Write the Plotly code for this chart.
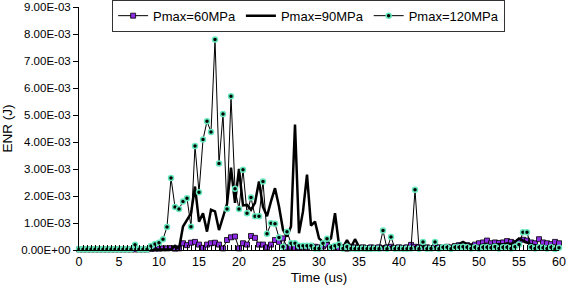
import plotly.graph_objects as go

# time axis (us), 0.5 us steps
time_us = [i * 0.5 for i in range(121)]

# ENR values in units of 1e-3 J
enr_60 = ([0.02] * 18 +
          [0.04, 0.05, 0.05, 0.06, 0.06, 0.07, 0.05, 0.06,            # 9 - 12.5
           0.25, 0.18, 0.27, 0.30, 0.20, 0.08, 0.20, 0.25, 0.27, 0.20,  # 13 - 17.5
           0.06, 0.37, 0.47, 0.50, 0.06, 0.25, 0.20, 0.52, 0.45, 0.20,  # 18 - 22.5
           0.20, 0.10, 0.20, 0.37, 0.30, 0.43, 0.10, 0.12, 0.08, 0.10,  # 23 - 27.5
           0.12, 0.10, 0.15, 0.12, 0.10, 0.13, 0.20, 0.10, 0.12, 0.08,  # 28 - 32.5
           0.10, 0.05, 0.12, 0.10, 0.08, 0.10, 0.07, 0.10, 0.08, 0.10,  # 33 - 37.5
           0.07, 0.10, 0.12, 0.08, 0.10, 0.08, 0.10, 0.19, 0.12, 0.10,  # 38 - 42.5
           0.08, 0.10, 0.07, 0.12, 0.10, 0.08, 0.12, 0.10, 0.15, 0.18,  # 43 - 47.5
           0.20, 0.18, 0.15, 0.20, 0.25, 0.28, 0.35, 0.25, 0.28, 0.26,  # 48 - 52.5
           0.28, 0.33, 0.30, 0.26, 0.30, 0.38, 0.35, 0.28, 0.25, 0.40,  # 53 - 57.5
           0.28, 0.25, 0.22, 0.30, 0.25])                               # 58 - 60

enr_90 = ([0.02] * 24 +
          [0.15, 0.05,                                                  # 12 - 12.5
           0.87, 1.12, 1.36, 2.35, 1.05, 1.36, 0.68, 1.49, 1.43, 0.74,  # 13 - 17.5
           1.24, 1.70, 3.05, 1.75, 3.00, 1.65, 1.67, 1.49, 1.75, 2.54,  # 18 - 22.5
           1.60, 1.25, 1.80, 2.29, 1.61, 0.75, 0.50, 0.87, 4.65, 0.62,  # 23 - 27.5
           1.43, 2.79, 0.90, 1.05, 0.43, 0.30, 0.31, 0.43, 1.36, 0.19,  # 28 - 32.5
           0.10, 0.37, 0.10, 0.40, 0.12, 0.10, 0.08, 0.10, 0.08, 0.10,  # 33 - 37.5
           0.10, 0.08, 0.10, 0.08, 0.08, 0.10, 0.08, 0.10, 0.10, 0.08,  # 38 - 42.5
           0.10, 0.08, 0.10, 0.10, 0.08, 0.10, 0.10, 0.12, 0.15, 0.20,  # 43 - 47.5
           0.30, 0.20, 0.18, 0.15, 0.15, 0.20, 0.20, 0.18, 0.20, 0.22,  # 48 - 52.5
           0.20, 0.25, 0.22, 0.30, 0.43, 0.35, 0.30, 0.20, 0.18, 0.15,  # 53 - 57.5
           0.15, 0.12, 0.12, 0.10, 0.10])                               # 58 - 60

enr_120 = ([0.03] * 14 +
           [0.19, 0.03, 0.03, 0.03,                                     # 7 - 8.5
            0.15, 0.22, 0.27, 0.40, 0.85, 2.67, 1.59, 1.52,             # 9 - 12.5
            1.80, 1.92, 0.86, 3.85, 2.14, 4.09, 4.77, 4.37, 7.80, 3.20, # 13 - 17.5
            5.04, 1.52, 5.69, 2.27, 1.52, 2.97, 1.36, 1.94, 1.25, 1.25, # 18 - 22.5
            2.54, 0.60, 0.99, 0.97, 0.46, 0.12, 0.68, 0.25, 0.25, 0.16, # 23 - 27.5
            0.16, 0.16, 0.16, 0.06, 0.06, 0.25, 0.42, 0.10, 0.16, 0.20, # 28 - 32.5
            0.06, 0.12, 0.06, 0.05, 0.05, 0.06, 0.05, 0.05, 0.06, 0.05, # 33 - 37.5
            0.72, 0.05, 0.48, 0.05, 0.06, 0.05, 0.05, 0.06, 2.23, 0.05, # 38 - 42.5
            0.30, 0.05, 0.06, 0.30, 0.05, 0.10, 0.10, 0.05, 0.10, 0.10, # 43 - 47.5
            0.12, 0.10, 0.06, 0.10, 0.06, 0.10, 0.10, 0.08, 0.12, 0.06, # 48 - 52.5
            0.10, 0.10, 0.06, 0.12, 0.20, 0.66, 0.66, 0.10, 0.06, 0.10, # 53 - 57.5
            0.08, 0.06, 0.10, 0.04, 0.08])                              # 58 - 60

series_names = ["Pmax=60MPa", "Pmax=90MPa", "Pmax=120MPa"]

y_tick_values = [0, 1e-3, 2e-3, 3e-3, 4e-3, 5e-3, 6e-3, 7e-3, 8e-3, 9e-3]
y_tick_labels = ["0.00E+00", "1.00E-03", "2.00E-03", "3.00E-03", "4.00E-03",
                 "5.00E-03", "6.00E-03", "7.00E-03", "8.00E-03", "9.00E-03"]

assert len(enr_60) == len(enr_90) == len(enr_120) == len(time_us)

scale = 1e-3
FONT = "Liberation Sans, Arial, sans-serif"

fig = go.Figure()
fig.add_trace(go.Scatter(
    x=time_us, y=[v * scale for v in enr_60], name=series_names[0],
    mode="lines+markers", cliponaxis=False,
    line=dict(color="black", width=1),
    marker=dict(symbol="square", size=5, color="#8B2BE2",
                line=dict(color="black", width=0.8))))
fig.add_trace(go.Scatter(
    x=time_us, y=[v * scale for v in enr_90], name=series_names[1],
    mode="lines", cliponaxis=False,
    line=dict(color="black", width=2.5)))
fig.add_trace(go.Scatter(
    x=time_us, y=[v * scale for v in enr_120], name=series_names[2],
    mode="lines+markers", cliponaxis=False,
    line=dict(color="black", width=1),
    marker=dict(symbol="circle", size=5, color="black",
                line=dict(color="#66E8BE", width=1.5))))

fig.update_layout(
    width=568, height=287,
    margin=dict(l=79, r=9, t=7, b=37, autoexpand=False),
    paper_bgcolor="white", plot_bgcolor="white",
    font=dict(family=FONT, color="black", size=12),
    showlegend=True,
    legend=dict(orientation="h", x=0.069, y=1.03, xanchor="left", yanchor="top",
                bgcolor="white", bordercolor="#333333", borderwidth=1,
                font=dict(size=13, family=FONT), itemwidth=30,
                tracegroupgap=0),
    xaxis=dict(range=[0, 60], tickmode="linear", tick0=0, dtick=5,
               automargin=False,
               showgrid=False, zeroline=False,
               showline=True, linecolor="black", linewidth=1,
               ticks="inside", ticklen=5, tickcolor="black",
               minor=dict(dtick=0.5, ticks="inside", ticklen=5, tickcolor="black", showgrid=False),
               tickfont=dict(size=12.5),
               title=dict(text="Time (us)", font=dict(size=13.5), standoff=4)),
    yaxis=dict(range=[0, 9e-3], tickvals=y_tick_values, ticktext=y_tick_labels,
               automargin=False,
               showgrid=False, zeroline=False,
               showline=True, linecolor="black", linewidth=1,
               ticks="outside", ticklen=5, tickcolor="black",
               tickfont=dict(size=11.5),
               title=dict(text="ENR (J)", font=dict(size=13.5), standoff=8)),
)

fig.write_html("out.html", config={"displayModeBar": False},
               post_script="document.body.style.margin='0px';")
